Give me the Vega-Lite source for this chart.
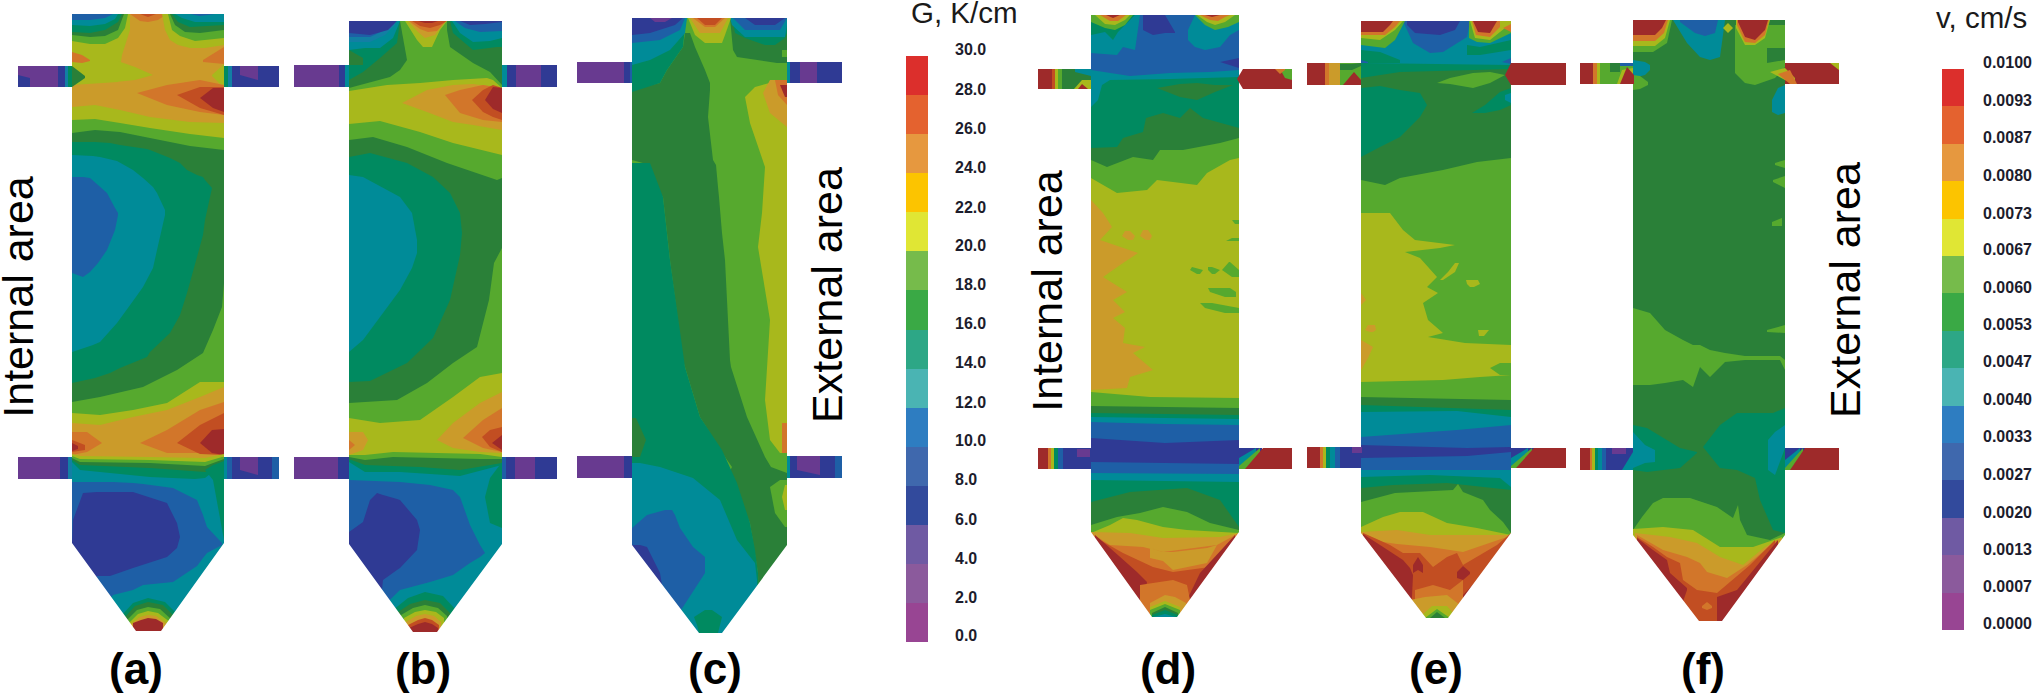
{
"$schema":"https://vega.github.io/schema/vega-lite/v6.json",
"width":2032,"height":697,"padding":0,"autosize":"none","background":"white",
"config":{"view":{"stroke":null},"font":"Liberation Sans"},
"encoding":{
"x":{"field":"x","type":"quantitative","axis":null,"scale":{"domain":[0,2032],"nice":false,"zero":false}},
"y":{"field":"y","type":"quantitative","axis":null,"scale":{"domain":[0,697],"reverse":true,"nice":false,"zero":false}}
},
"datasets":{
"v":[
{"b":"a0","c":11,"x":[72,224],"y":[14,14],"y2":[640,640]},
{"b":"a1","c":12,"x":[130,140,148,158,167],"y":[14,14,14,14,14],"y2":[14,21,22,20,14]},
{"b":"a2","c":13,"x":[140,148,156],"y":[14,14,14],"y2":[14,17,14]},
{"b":"a3","c":10,"x":[72,118,122,130],"y":[14,14,14,14],"y2":[85,82,55,30]},
{"b":"a4","c":10,"x":[115,135,153],"y":[60,67,75],"y2":[82,80,75]},
{"b":"a5","c":12,"x":[72,82,90],"y":[52,55,60],"y2":[62,63,61]},
{"b":"a6","c":9,"x":[72,90,105,118,125,128],"y":[14,14,14,14,14,14],"y2":[41,44,44,38,28,14]},
{"b":"a7","c":8,"x":[72,90,105,118,124],"y":[14,14,14,14,14],"y2":[35,37,36,30,14]},
{"b":"a8","c":7,"x":[72,90,105,118,122],"y":[14,14,14,14,14],"y2":[32,33,30,22,14]},
{"b":"a9","c":6,"x":[72,90,105,115,118],"y":[14,14,14,14,14],"y2":[25,26,24,19,14]},
{"b":"a10","c":4,"x":[72,90,105,113],"y":[14,14,14,14],"y2":[20,20,18,14]},
{"b":"a11","c":10,"x":[162,165,170,178,190,205,224],"y":[14,14,14,14,14,14,14],"y2":[14,30,40,45,48,48,45]},
{"b":"a12","c":9,"x":[168,172,180,195,224],"y":[14,14,14,14,14],"y2":[14,30,36,41,38]},
{"b":"a13","c":8,"x":[170,175,185,200,224],"y":[14,14,14,14,14],"y2":[14,25,32,33,30]},
{"b":"a14","c":7,"x":[172,178,190,224],"y":[14,14,14,14],"y2":[14,22,27,25]},
{"b":"a15","c":6,"x":[175,182,195,224],"y":[14,14,14,14],"y2":[14,18,22,22]},
{"b":"a16","c":4,"x":[190,200,215],"y":[14,14,14],"y2":[14,16,14]},
{"b":"a17","c":12,"x":[203,224],"y":[60,47],"y2":[62,64]},
{"b":"a18","c":10,"x":[212,224],"y":[75,64],"y2":[76,88]},
{"b":"a19","c":8,"x":[72,85],"y":[66,76],"y2":[87,78]},
{"b":"a20","c":12,"x":[137,167,200,224],"y":[93,85,80,85],"y2":[93,105,112,115]},
{"b":"a21","c":13,"x":[177,200,224],"y":[95,87,87],"y2":[95,108,115]},
{"b":"a22","c":14,"x":[200,213,224],"y":[98,88,88],"y2":[98,108,112]},
{"b":"a23","c":10,"x":[72,95,120,150,190,224],"y":[107,105,110,117,122,123],"y2":[640,640,640,640,640,640]},
{"b":"a24","c":9,"x":[72,95,120,150,190,224],"y":[120,119,123,128,134,138],"y2":[640,640,640,640,640,640]},
{"b":"a25","c":8,"x":[72,95,120,150,190,224],"y":[133,130,132,138,146,150],"y2":[640,640,640,640,640,640]},
{"b":"a26","c":7,"x":[72,95,110,120,147,150,170,180,187,197,203,205,212],"y":[142,142,143,145,149,150,158,163,170,175,177,180,188],"y2":[383,378,373,368,357,352,333,315,293,257,235,220,188]},
{"b":"a27","c":6,"x":[72,93,100,117,133,143,153,157,165],"y":[155,156,157,161,170,178,187,193,210],"y2":[352,345,342,323,301,287,268,250,215]},
{"b":"a28","c":4,"x":[72,83,90,98,107,115,118],"y":[177,177,178,185,193,208,213],"y2":[273,277,272,263,250,230,215]},
{"b":"a29","c":9,"x":[72,100,143,177,203,213,222,224],"y":[402,397,387,370,353,330,307,283],"y2":[640,640,640,640,640,640,640,640]},
{"b":"a30","c":10,"x":[72,100,133,167,200,224],"y":[413,415,410,403,382,382],"y2":[640,640,640,640,640,640]},
{"b":"a31","c":11,"x":[72,100,133,167,200,224],"y":[423,425,417,410,397,387],"y2":[640,640,640,640,640,640]},
{"b":"a32","c":12,"x":[140,167,200,224],"y":[443,430,410,402],"y2":[443,453,453,454]},
{"b":"a33","c":13,"x":[177,200,224],"y":[443,425,413],"y2":[443,454,455]},
{"b":"a34","c":14,"x":[200,212,224],"y":[443,430,429],"y2":[443,453,455]},
{"b":"a35","c":12,"x":[72,87,102],"y":[432,432,443],"y2":[455,452,443]},
{"b":"a36","c":13,"x":[72,85],"y":[440,445],"y2":[452,450]},
{"b":"a37","c":14,"x":[72,78],"y":[443,446],"y2":[451,449]},
{"b":"a38","c":10,"x":[72,80,150,205,224],"y":[454,456,457,458,454],"y2":[640,640,640,640,640]},
{"b":"a39","c":9,"x":[72,80,150,205,222,224],"y":[456,459,460,462,457,457],"y2":[640,640,640,640,640,640]},
{"b":"a40","c":8,"x":[72,80,150,205,224],"y":[458,462,463,466,459],"y2":[640,640,640,640,640]},
{"b":"a41","c":7,"x":[72,80,150,205,215,224],"y":[460,465,468,472,468,461],"y2":[640,640,640,640,640,640]},
{"b":"a42","c":6,"x":[72,80,150,195,205,224],"y":[462,470,477,479,478,463],"y2":[640,640,640,640,640,640]},
{"b":"a43","c":7,"x":[205,213,224],"y":[470,465,461],"y2":[470,480,540]},
{"b":"a44","c":4,"x":[72,113,133,143,173,197,203,207,222],"y":[482,482,483,484,488,500,515,527,543],"y2":[640,595,590,585,582,566,558,553,545]},
{"b":"a45","c":3,"x":[72,73,83,97,110,133,167,177,180],"y":[543,520,493,492,492,492,503,523,537],"y2":[640,640,640,576,576,568,557,548,537]},
{"b":"a46","c":7,"x":[122,133,148,165,178],"y":[615,603,598,602,615],"y2":[640,640,640,640,640]},
{"b":"a47","c":8,"x":[125,135,148,163,175],"y":[617,606,602,605,617],"y2":[640,640,640,640,640]},
{"b":"a48","c":9,"x":[127,137,148,160,172],"y":[620,610,607,609,620],"y2":[640,640,640,640,640]},
{"b":"a49","c":10,"x":[130,138,148,158,170],"y":[622,614,611,613,622],"y2":[640,640,640,640,640]},
{"b":"a50","c":11,"x":[131,140,148,156,167],"y":[624,617,615,616,624],"y2":[640,640,640,640,640]},
{"b":"a51","c":14,"x":[133,141,148,156,163],"y":[623,620,618,619,623],"y2":[640,640,640,640,640]},

{"b":"b0","c":9,"x":[349,502],"y":[21,21],"y2":[640,640]},
{"b":"b1","c":8,"x":[349,390,400,407],"y":[21,21,21,60],"y2":[88,77,70,60]},
{"b":"b2","c":7,"x":[349,363,380,397,400],"y":[21,21,21,21,21],"y2":[80,72,58,43,21]},
{"b":"b3","c":8,"x":[349,363],"y":[50,58],"y2":[65,65]},
{"b":"b4","c":6,"x":[349,365,380,393,398,400],"y":[21,21,21,21,21,21],"y2":[50,48,48,38,26,21]},
{"b":"b5","c":5,"x":[349,370,385,395],"y":[21,21,21,21],"y2":[42,42,35,25]},
{"b":"b6","c":4,"x":[349,370,385,393],"y":[21,21,21,21],"y2":[37,37,30,21]},
{"b":"b7","c":3,"x":[349,370,388,397],"y":[21,21,21,21],"y2":[33,35,30,21]},
{"b":"b8","c":8,"x":[447,450,473,490,502],"y":[21,21,21,21,21],"y2":[30,47,63,72,85]},
{"b":"b9","c":7,"x":[450,453,473,497,502],"y":[21,21,21,21,21],"y2":[21,33,50,47,47]},
{"b":"b10","c":6,"x":[452,460,473,490,502],"y":[21,21,21,21,21],"y2":[21,33,42,41,38]},
{"b":"b11","c":4,"x":[455,465,480,502],"y":[21,21,21,21],"y2":[21,28,32,31]},
{"b":"b12","c":3,"x":[460,470,485,502],"y":[21,21,21,21],"y2":[21,25,24,22]},
{"b":"b13","c":10,"x":[405,417,423,432,440,447],"y":[21,21,21,21,21,21],"y2":[21,40,47,47,30,21]},
{"b":"b14","c":11,"x":[408,418,425,435,445],"y":[21,21,21,21,21],"y2":[21,32,38,35,21]},
{"b":"b15","c":12,"x":[409,420,428,437,446],"y":[21,21,21,21,21],"y2":[21,29,32,31,21]},
{"b":"b16","c":13,"x":[412,420,430,440,447],"y":[21,21,21,21,21],"y2":[21,26,28,25,21]},
{"b":"b17","c":14,"x":[418,425,432,438],"y":[21,21,21,21],"y2":[21,23,23,21]},
{"b":"b18","c":10,"x":[349,387,420,453,487,493,502],"y":[91,85,83,80,78,80,88],"y2":[640,640,640,640,640,640,640]},
{"b":"b19","c":11,"x":[402,427,453,473,502],"y":[103,90,85,84,88],"y2":[103,112,122,125,130]},
{"b":"b20","c":12,"x":[445,460,483,502],"y":[95,90,85,88],"y2":[95,113,120,122]},
{"b":"b21","c":13,"x":[472,483,493,502],"y":[100,90,85,88],"y2":[100,112,117,120]},
{"b":"b22","c":14,"x":[485,493,502],"y":[100,87,88],"y2":[100,109,113]},
{"b":"b23","c":9,"x":[349,380,420,453,502],"y":[124,121,132,143,155],"y2":[640,640,640,640,640]},
{"b":"b24","c":8,"x":[349,373,407,447,497,502],"y":[140,137,147,163,180,178],"y2":[640,640,640,640,640,640]},
{"b":"b25","c":9,"x":[349,397,427,453,477,489,494,502],"y":[403,400,383,363,347,300,263,248],"y2":[640,640,640,640,640,640,640,640]},
{"b":"b26","c":7,"x":[349,370,407,433,450,460,462],"y":[157,153,163,177,193,213,233],"y2":[382,381,363,338,300,255,233]},
{"b":"b27","c":6,"x":[349,363,400,412,417],"y":[175,177,197,213,240],"y2":[352,340,290,268,253]},
{"b":"b28","c":10,"x":[349,380,420,453,480,502],"y":[418,423,420,397,377,373],"y2":[640,640,640,640,640,640]},
{"b":"b29","c":11,"x":[437,453,480,502],"y":[440,423,403,392],"y2":[440,448,452,453]},
{"b":"b30","c":12,"x":[463,483,502],"y":[438,420,408],"y2":[438,448,452]},
{"b":"b31","c":13,"x":[482,490,502],"y":[437,430,427],"y2":[437,447,452]},
{"b":"b32","c":14,"x":[492,502],"y":[443,435],"y2":[443,450]},
{"b":"b33","c":11,"x":[349,363,368],"y":[432,432,440],"y2":[455,450,440]},
{"b":"b34","c":12,"x":[349,355],"y":[440,445],"y2":[450,445]},
{"b":"b35","c":9,"x":[349,365,393,480,502],"y":[455,455,452,454,457],"y2":[640,640,640,640,640]},
{"b":"b36","c":8,"x":[349,365,393,480,502],"y":[457,460,457,459,459],"y2":[640,640,640,640,640]},
{"b":"b37","c":7,"x":[349,365,420,460,502],"y":[459,465,467,470,463],"y2":[640,640,640,640,640]},
{"b":"b38","c":6,"x":[349,365,400,460,502],"y":[462,472,472,476,465],"y2":[640,640,640,640,640]},
{"b":"b39","c":7,"x":[485,490,502],"y":[497,478,462],"y2":[497,523,528]},
{"b":"b40","c":4,"x":[349,400,430,453,460,470,480,485],"y":[480,482,485,490,497,525,545,553],"y2":[640,590,582,575,570,563,557,553]},
{"b":"b41","c":3,"x":[349,363,370,377,383,397,400,417,420],"y":[532,522,500,493,495,499,500,520,530],"y2":[640,640,640,640,580,570,568,550,530]},
{"b":"b42","c":7,"x":[393,408,425,443,456],"y":[610,598,592,596,610],"y2":[640,640,640,640,640]},
{"b":"b43","c":8,"x":[398,410,425,440,450],"y":[612,604,600,603,613],"y2":[640,640,640,640,640]},
{"b":"b44","c":9,"x":[401,413,425,438,447],"y":[615,608,605,608,616],"y2":[640,640,640,640,640]},
{"b":"b45","c":10,"x":[404,415,425,436,444],"y":[618,612,610,612,618],"y2":[640,640,640,640,640]},
{"b":"b46","c":11,"x":[406,416,425,434,441],"y":[622,616,614,616,622],"y2":[640,640,640,640,640]},
{"b":"b47","c":13,"x":[408,418,425,432,439],"y":[625,620,618,620,625],"y2":[640,640,640,640,640]},
{"b":"b48","c":14,"x":[409,418,425,432,438],"y":[628,624,622,624,628],"y2":[640,640,640,640,640]},

{"b":"d0","c":4,"x":[1091,1239],"y":[15,15],"y2":[640,640]},
{"b":"d1","c":6,"x":[1091,1117,1123,1135,1140],"y":[15,15,15,15,15],"y2":[53,55,47,50,15]},
{"b":"d2","c":7,"x":[1091,1105,1113,1118,1128,1135],"y":[15,15,15,15,15,15],"y2":[35,32,40,32,22,15]},
{"b":"d3","c":9,"x":[1091,1105,1115,1125,1133],"y":[15,15,15,15,15],"y2":[22,28,30,25,15]},
{"b":"d4","c":10,"x":[1095,1105,1115,1125,1130],"y":[15,15,15,15,15],"y2":[15,24,25,20,15]},
{"b":"d5","c":12,"x":[1100,1110,1118,1126],"y":[15,15,15,15],"y2":[15,21,21,15]},
{"b":"d6","c":14,"x":[1106,1113,1120],"y":[15,15,15],"y2":[15,18,15]},
{"b":"d7","c":3,"x":[1143,1153,1165,1175],"y":[15,15,15,32],"y2":[30,35,33,33]},
{"b":"d8","c":6,"x":[1188,1195,1205,1220,1230,1239],"y":[30,15,15,15,15,15],"y2":[40,47,50,47,35,30]},
{"b":"d9","c":9,"x":[1195,1205,1215,1228,1239],"y":[15,15,15,15,15],"y2":[15,25,30,27,22]},
{"b":"d10","c":10,"x":[1197,1207,1215,1225,1235],"y":[15,15,15,15,15],"y2":[15,22,25,22,15]},
{"b":"d11","c":12,"x":[1200,1210,1218,1225,1230],"y":[15,15,15,15,15],"y2":[15,20,21,17,15]},
{"b":"d12","c":14,"x":[1205,1212,1220],"y":[15,15,15],"y2":[15,17,15]},
{"b":"d13","c":3,"x":[1220,1239],"y":[62,58],"y2":[62,68]},
{"b":"d14","c":6,"x":[1091,1130,1170,1210,1239],"y":[70,76,73,72,70],"y2":[640,640,640,640,640]},
{"b":"d15","c":7,"x":[1091,1098,1102,1110,1170,1239],"y":[107,100,85,80,79,77],"y2":[640,640,640,640,640,640]},
{"b":"d16","c":8,"x":[1157,1180,1197,1215,1233],"y":[88,84,83,85,85],"y2":[88,97,100,92,85]},
{"b":"d17","c":8,"x":[1091,1117,1123,1143,1146,1163,1180,1190,1203,1239],"y":[148,147,138,132,118,113,118,108,118,128],"y2":[640,640,640,640,640,640,640,640,640,640]},
{"b":"d18","c":9,"x":[1091,1107,1133,1153,1160,1183,1220,1239],"y":[160,167,157,160,150,150,143,138],"y2":[640,640,640,640,640,640,640,640]},
{"b":"d19","c":10,"x":[1091,1117,1147,1157,1197,1207,1230,1239],"y":[178,193,190,180,185,173,160,158],"y2":[640,640,640,640,640,640,640,640]},
{"b":"d20","c":9,"x":[1091,1150,1239],"y":[392,397,398],"y2":[640,640,640]},
{"b":"d21","c":8,"x":[1091,1239],"y":[406,408],"y2":[640,640]},
{"b":"d22","c":7,"x":[1091,1239],"y":[413,415],"y2":[640,640]},
{"b":"d23","c":6,"x":[1091,1239],"y":[417,419],"y2":[640,640]},
{"b":"d24","c":4,"x":[1091,1165,1239],"y":[422,424,425],"y2":[640,640,640]},
{"b":"d25","c":3,"x":[1091,1165,1239],"y":[438,443,440],"y2":[462,463,464]},
{"b":"d26","c":6,"x":[1091,1239],"y":[473,474],"y2":[640,640]},
{"b":"d27","c":7,"x":[1091,1239],"y":[480,482],"y2":[640,640]},
{"b":"d28","c":8,"x":[1091,1130,1187,1220,1239],"y":[502,492,488,500,527],"y2":[640,640,640,640,640]},
{"b":"d29","c":9,"x":[1091,1117,1140,1163,1187,1210,1239],"y":[525,517,513,507,512,523,530],"y2":[640,640,640,640,640,640,640]},
{"b":"d30","c":10,"x":[1091,1110,1123,1137,1163,1187,1239],"y":[533,525,518,520,527,530,533],"y2":[640,640,640,640,640,640,640]},
{"b":"d31","c":11,"x":[1091,1130,1163,1220,1239],"y":[532,533,538,537,533],"y2":[640,640,640,640,640]},
{"b":"d32","c":12,"x":[1091,1110,1143,1163,1217,1239],"y":[533,545,547,552,545,533],"y2":[640,640,640,640,640,640]},
{"b":"d33","c":11,"x":[1150,1163,1173,1207,1217],"y":[548,552,552,548,545],"y2":[558,561,570,563,545]},
{"b":"d34","c":13,"x":[1091,1123,1153,1173,1210,1239],"y":[535,553,567,572,567,533],"y2":[640,640,640,640,640,640]},
{"b":"d35","c":14,"x":[1095,1110,1137,1147],"y":[535,548,572,582],"y2":[640,640,640,582]},
{"b":"d36","c":14,"x":[1187,1200,1235],"y":[600,573,535],"y2":[640,640,640]},
{"b":"d37","c":12,"x":[1140,1153,1173,1187,1190],"y":[585,583,580,585,600],"y2":[640,640,640,640,640]},
{"b":"d38","c":11,"x":[1150,1165,1175,1186],"y":[603,595,597,603],"y2":[640,640,640,640]},
{"b":"d39","c":10,"x":[1150,1165,1180],"y":[607,601,607],"y2":[640,640,640]},
{"b":"d40","c":9,"x":[1150,1165,1180],"y":[610,604,610],"y2":[640,640,640]},
{"b":"d41","c":8,"x":[1152,1165,1178],"y":[613,607,613],"y2":[640,640,640]},
{"b":"d42","c":7,"x":[1152,1165,1178],"y":[615,610,615],"y2":[640,640,640]},
{"b":"d43","c":6,"x":[1153,1165,1176],"y":[617,614,617],"y2":[640,640,640]},

{"b":"e0","c":6,"x":[1361,1511],"y":[21,21],"y2":[640,640]},
{"b":"e1","c":4,"x":[1403,1413,1430,1443,1467,1470],"y":[21,21,21,21,21,21],"y2":[21,43,53,52,37,21]},
{"b":"e2","c":3,"x":[1407,1415,1440,1455,1460],"y":[21,21,21,21,21],"y2":[25,33,35,30,21]},
{"b":"e3","c":7,"x":[1361,1380,1400],"y":[50,52,60],"y2":[63,63,63]},
{"b":"e4","c":9,"x":[1361,1385,1395,1405],"y":[21,21,21,21],"y2":[45,48,40,21]},
{"b":"e5","c":10,"x":[1361,1380,1395,1403],"y":[21,21,21,21],"y2":[38,40,30,21]},
{"b":"e6","c":12,"x":[1361,1385,1395,1400],"y":[21,21,21,21],"y2":[35,35,27,21]},
{"b":"e7","c":14,"x":[1361,1383,1390,1393],"y":[21,21,21,21],"y2":[32,32,25,21]},
{"b":"e8","c":7,"x":[1467,1480,1511],"y":[45,47,40],"y2":[55,55,50]},
{"b":"e9","c":9,"x":[1469,1477,1490,1511],"y":[21,21,21,21],"y2":[38,42,43,33]},
{"b":"e10","c":10,"x":[1470,1475,1490,1505,1511],"y":[21,21,21,21,21],"y2":[21,38,40,28,25]},
{"b":"e11","c":12,"x":[1472,1476,1490,1500],"y":[21,21,21,21],"y2":[21,35,37,27]},
{"b":"e12","c":14,"x":[1473,1478,1490,1497],"y":[21,21,21,21],"y2":[21,32,33,21]},
{"b":"e13","c":12,"x":[1503,1511],"y":[28,24],"y2":[28,32]},
{"b":"e14","c":4,"x":[1361,1368],"y":[60,62],"y2":[68,66]},
{"b":"e15","c":4,"x":[1502,1511],"y":[62,58],"y2":[62,64]},
{"b":"e16","c":7,"x":[1361,1511],"y":[63,65],"y2":[640,640]},
{"b":"e17","c":8,"x":[1361,1400,1511],"y":[78,72,69],"y2":[640,640,640]},
{"b":"e18","c":9,"x":[1437,1450,1473,1490,1505],"y":[83,78,73,72,75],"y2":[83,84,88,83,75]},
{"b":"e19","c":7,"x":[1361,1380,1400,1420,1427],"y":[88,86,90,93,105],"y2":[157,147,137,117,105]},
{"b":"e20","c":7,"x":[1472,1485,1500,1511],"y":[113,105,92,88],"y2":[113,113,110,105]},
{"b":"e21","c":6,"x":[1505,1511],"y":[95,93],"y2":[100,103]},
{"b":"e22","c":9,"x":[1361,1385,1400,1443,1477,1511],"y":[180,185,178,170,162,158],"y2":[640,640,640,640,640,640]},
{"b":"e23","c":8,"x":[1361,1511],"y":[397,400],"y2":[640,640]},
{"b":"e24","c":7,"x":[1361,1511],"y":[405,410],"y2":[640,640]},
{"b":"e25","c":6,"x":[1361,1457,1511],"y":[412,411,417],"y2":[640,640,640]},
{"b":"e26","c":4,"x":[1361,1457,1511],"y":[437,430,425],"y2":[640,640,640]},
{"b":"e27","c":3,"x":[1361,1467,1511],"y":[445,448,447],"y2":[458,456,452]},
{"b":"e28","c":6,"x":[1361,1511],"y":[470,470],"y2":[640,640]},
{"b":"e29","c":7,"x":[1361,1430,1500,1511],"y":[477,475,478,487],"y2":[640,640,640,640]},
{"b":"e30","c":8,"x":[1361,1393,1447,1511],"y":[488,485,483,490],"y2":[640,640,640,640]},
{"b":"e31","c":9,"x":[1361,1395,1453,1458,1463,1483,1490,1503,1511],"y":[502,493,490,484,492,500,510,522,533],"y2":[640,640,640,640,640,640,640,640,640]},
{"b":"e32","c":10,"x":[1361,1383,1400,1423,1447,1477,1511],"y":[527,517,512,512,523,528,535],"y2":[640,640,640,640,640,640,640]},
{"b":"e33","c":11,"x":[1361,1397,1430,1511],"y":[532,530,535,535],"y2":[640,640,640,640]},
{"b":"e34","c":12,"x":[1363,1383,1397,1430,1463,1507],"y":[533,542,544,547,552,537],"y2":[640,640,640,640,640,640]},
{"b":"e35","c":13,"x":[1363,1390,1403,1420,1433,1447,1457,1463,1497,1511],"y":[533,545,553,553,567,557,553,565,545,533],"y2":[640,640,640,640,640,640,640,640,640,640]},
{"b":"e36","c":14,"x":[1363,1380,1403,1410,1413],"y":[534,545,560,568,575],"y2":[640,640,640,640,575]},
{"b":"e37","c":14,"x":[1413,1418,1423],"y":[565,557,565],"y2":[573,570,573]},
{"b":"e38","c":14,"x":[1457,1463,1470],"y":[572,566,572],"y2":[578,580,574]},
{"b":"e39","c":14,"x":[1463,1487,1508],"y":[595,570,537],"y2":[640,640,640]},
{"b":"e40","c":12,"x":[1415,1433,1450,1463],"y":[590,585,590,580],"y2":[640,640,640,640]},
{"b":"e41","c":11,"x":[1410,1425,1447,1460],"y":[600,597,595,605],"y2":[640,640,640,640]},
{"b":"e42","c":10,"x":[1422,1432,1447,1455],"y":[615,606,606,615],"y2":[640,640,640,640]},
{"b":"e43","c":9,"x":[1425,1437,1450],"y":[618,609,618],"y2":[640,640,640]},
{"b":"e44","c":8,"x":[1430,1437,1445],"y":[618,612,618],"y2":[640,640,640]},

{"b":"f0","c":8,"x":[1633,1785],"y":[20,20],"y2":[640,640]},
{"b":"f1","c":6,"x":[1673,1687,1700,1710,1720,1725],"y":[20,20,20,20,20,20],"y2":[20,43,57,60,57,20]},
{"b":"f2","c":4,"x":[1680,1695,1705,1715,1718],"y":[20,20,20,20,20],"y2":[22,33,36,33,20]},
{"b":"f3","c":9,"x":[1633,1653,1667,1672],"y":[20,20,20,20],"y2":[52,52,43,20]},
{"b":"f4","c":10,"x":[1633,1655,1665,1670],"y":[20,20,20,20],"y2":[46,46,38,20]},
{"b":"f5","c":12,"x":[1633,1655,1664,1668],"y":[20,20,20,20],"y2":[41,41,33,20]},
{"b":"f6","c":14,"x":[1633,1655,1662,1666],"y":[20,20,20,20],"y2":[35,35,28,20]},
{"b":"f7","c":6,"x":[1633,1645,1650],"y":[60,62,65],"y2":[78,75,70]},
{"b":"f8","c":9,"x":[1633,1640,1648],"y":[75,76,82],"y2":[90,89,85]},
{"b":"f9","c":10,"x":[1723,1728,1733],"y":[28,23,28],"y2":[28,33,28]},
{"b":"f10","c":9,"x":[1735,1745,1755,1775,1785],"y":[25,25,25,25,25],"y2":[73,83,85,78,67]},
{"b":"f11","c":8,"x":[1767,1785],"y":[48,48],"y2":[63,60]},
{"b":"f12","c":10,"x":[1736,1745,1755,1765,1770],"y":[20,20,20,20,20],"y2":[28,45,45,38,20]},
{"b":"f13","c":12,"x":[1737,1745,1755,1765,1769],"y":[20,20,20,20,20],"y2":[25,42,43,35,20]},
{"b":"f14","c":14,"x":[1738,1745,1755,1765,1768],"y":[20,20,20,20,20],"y2":[22,37,40,30,20]},
{"b":"f15","c":6,"x":[1772,1778,1785],"y":[100,88,85],"y2":[112,115,113]},
{"b":"f16","c":9,"x":[1633,1650,1665,1683,1693,1700,1710,1725,1745,1780,1785],"y":[308,313,330,340,345,345,350,353,356,356,360],"y2":[385,385,383,380,387,367,377,362,360,360,370]},
{"b":"f17","c":9,"x":[1775,1785],"y":[163,160],"y2":[165,168]},
{"b":"f18","c":9,"x":[1773,1785],"y":[180,176],"y2":[182,188]},
{"b":"f19","c":9,"x":[1772,1782],"y":[222,218],"y2":[226,226]},
{"b":"f20","c":9,"x":[1767,1785],"y":[330,325],"y2":[332,333]},
{"b":"f21","c":7,"x":[1633,1647,1680,1697],"y":[425,428,448,452],"y2":[470,472,468,453]},
{"b":"f22","c":6,"x":[1633,1645,1655],"y":[432,445,450],"y2":[468,463,462]},
{"b":"f23","c":7,"x":[1703,1720,1737,1755,1760,1773,1785],"y":[447,425,413,413,413,413,408],"y2":[447,468,470,478,500,530,533]},
{"b":"f24","c":6,"x":[1768,1775,1785],"y":[440,432,425],"y2":[470,475,448]},
{"b":"f25","c":9,"x":[1633,1642,1653,1663,1690,1717,1733,1738,1740,1747,1770,1785],"y":[530,517,503,498,498,507,518,505,520,535,540,533],"y2":[640,640,640,640,640,640,640,640,640,640,640,640]},
{"b":"f26","c":10,"x":[1633,1663,1693,1720,1753,1782],"y":[529,527,530,547,547,537],"y2":[640,640,640,640,640,640]},
{"b":"f27","c":11,"x":[1635,1670,1697,1720,1743,1765,1782],"y":[533,537,543,557,565,547,538],"y2":[640,640,640,640,640,640,640]},
{"b":"f28","c":12,"x":[1637,1663,1687,1700,1707,1727,1747,1777],"y":[535,550,557,563,572,578,565,540],"y2":[640,640,640,640,640,640,640,640]},
{"b":"f29","c":13,"x":[1637,1653,1667,1680,1683,1697,1717,1750,1775],"y":[537,547,557,563,580,590,593,565,540],"y2":[640,640,640,640,640,640,640,640,640]},
{"b":"f30","c":14,"x":[1637,1653,1667,1670,1687],"y":[538,550,560,573,588],"y2":[640,640,640,640,590]},
{"b":"f31","c":14,"x":[1717,1737,1778],"y":[597,590,540],"y2":[640,640,640]},
{"b":"f32","c":12,"x":[1702,1707,1712],"y":[606,602,606],"y2":[608,610,608]},

{"b":"s1","c":1,"x":[18,58],"y":[66,66],"y2":[87,87]},
{"b":"s2","c":3,"x":[18,30],"y":[75,78],"y2":[87,87]},
{"b":"s3","c":3,"x":[58,65],"y":[66,66],"y2":[87,87]},
{"b":"s4","c":5,"x":[65,68],"y":[66,66],"y2":[87,87]},
{"b":"s5","c":7,"x":[68,72],"y":[66,66],"y2":[87,87]},
{"b":"s6","c":3,"x":[224,279],"y":[66,66],"y2":[87,87]},
{"b":"s7","c":7,"x":[224,228],"y":[66,66],"y2":[87,87]},
{"b":"s8","c":5,"x":[228,232],"y":[66,66],"y2":[87,87]},
{"b":"s9","c":1,"x":[240,258],"y":[66,66],"y2":[75,80]},
{"b":"s10","c":1,"x":[18,60],"y":[457,457],"y2":[479,479]},
{"b":"s11","c":3,"x":[60,68],"y":[457,457],"y2":[479,479]},
{"b":"s12","c":5,"x":[68,72],"y":[457,457],"y2":[479,479]},
{"b":"s13","c":3,"x":[224,279],"y":[457,457],"y2":[479,479]},
{"b":"s14","c":6,"x":[224,227],"y":[457,457],"y2":[479,479]},
{"b":"s15","c":4,"x":[227,232],"y":[457,457],"y2":[479,479]},
{"b":"s16","c":1,"x":[240,258],"y":[457,457],"y2":[470,475]},
{"b":"s17","c":4,"x":[272,279],"y":[457,457],"y2":[479,479]},
{"b":"s18","c":1,"x":[294,339],"y":[65,65],"y2":[87,87]},
{"b":"s19","c":3,"x":[339,345],"y":[65,65],"y2":[87,87]},
{"b":"s20","c":6,"x":[345,349],"y":[65,65],"y2":[87,87]},
{"b":"s21","c":1,"x":[294,338],"y":[457,457],"y2":[479,479]},
{"b":"s22","c":3,"x":[338,349],"y":[457,457],"y2":[479,479]},
{"b":"s23","c":3,"x":[502,557],"y":[65,65],"y2":[87,87]},
{"b":"s24","c":6,"x":[502,507],"y":[65,65],"y2":[87,87]},
{"b":"s25","c":1,"x":[516,541],"y":[65,65],"y2":[87,87]},
{"b":"s26","c":3,"x":[502,557],"y":[457,457],"y2":[479,479]},
{"b":"s27","c":4,"x":[502,506],"y":[457,457],"y2":[479,479]},
{"b":"s28","c":1,"x":[515,535],"y":[457,457],"y2":[479,479]},
{"b":"s29","c":1,"x":[577,624],"y":[62,62],"y2":[83,83]},
{"b":"s30","c":3,"x":[624,630],"y":[62,62],"y2":[83,83]},
{"b":"s31","c":4,"x":[630,632],"y":[62,62],"y2":[83,83]},
{"b":"s32","c":1,"x":[577,624],"y":[456,456],"y2":[478,478]},
{"b":"s33","c":3,"x":[624,632],"y":[456,456],"y2":[478,478]},
{"b":"s34","c":3,"x":[787,842],"y":[62,62],"y2":[83,83]},
{"b":"s35","c":6,"x":[787,790],"y":[62,62],"y2":[83,83]},
{"b":"s36","c":1,"x":[800,817],"y":[62,62],"y2":[83,83]},
{"b":"s37","c":3,"x":[787,842],"y":[456,456],"y2":[478,478]},
{"b":"s38","c":6,"x":[787,790],"y":[456,456],"y2":[478,478]},
{"b":"s39","c":1,"x":[797,820],"y":[456,456],"y2":[470,475]},
{"b":"s40","c":4,"x":[835,842],"y":[456,456],"y2":[478,478]},
{"b":"s41","c":8,"x":[1038,1091],"y":[69,69],"y2":[89,89]},
{"b":"s42","c":14,"x":[1038,1052],"y":[69,69],"y2":[89,89]},
{"b":"s43","c":13,"x":[1052,1055],"y":[69,69],"y2":[89,89]},
{"b":"s44","c":10,"x":[1055,1058],"y":[69,69],"y2":[89,89]},
{"b":"s45","c":9,"x":[1058,1062],"y":[69,69],"y2":[89,89]},
{"b":"s46","c":6,"x":[1075,1091],"y":[69,69],"y2":[72,76]},
{"b":"s47","c":10,"x":[1074,1082,1091],"y":[89,80,80],"y2":[89,89,89]},
{"b":"s48","c":14,"x":[1078,1082,1088],"y":[89,84,89],"y2":[89,89,89]},
{"b":"s49","c":14,"x":[1237,1243,1292],"y":[79,69,69],"y2":[79,89,89]},
{"b":"s50","c":9,"x":[1280,1285,1292],"y":[69,69,69],"y2":[69,78,80]},
{"b":"s51","c":12,"x":[1275,1280,1285],"y":[69,69,69],"y2":[69,74,70]},
{"b":"s52","c":3,"x":[1038,1091],"y":[448,448],"y2":[469,469]},
{"b":"s53","c":14,"x":[1038,1048],"y":[448,448],"y2":[469,469]},
{"b":"s54","c":12,"x":[1048,1051],"y":[448,448],"y2":[469,469]},
{"b":"s55","c":10,"x":[1051,1054],"y":[448,448],"y2":[469,469]},
{"b":"s56","c":7,"x":[1054,1058],"y":[448,448],"y2":[469,469]},
{"b":"s57","c":4,"x":[1058,1063],"y":[448,448],"y2":[469,469]},
{"b":"s58","c":1,"x":[1077,1090],"y":[449,449],"y2":[457,457]},
{"b":"s59","c":3,"x":[1239,1262],"y":[448,448],"y2":[469,469]},
{"b":"s60","c":6,"x":[1239,1256],"y":[458,448],"y2":[469,469]},
{"b":"s61","c":9,"x":[1239,1260],"y":[466,448],"y2":[469,469]},
{"b":"s62","c":14,"x":[1245,1263,1292],"y":[469,448,448],"y2":[469,469,469]},
{"b":"s63","c":9,"x":[1307,1361],"y":[63,63],"y2":[85,85]},
{"b":"s64","c":14,"x":[1307,1325],"y":[63,63],"y2":[85,85]},
{"b":"s65","c":12,"x":[1325,1329],"y":[63,63],"y2":[85,85]},
{"b":"s66","c":11,"x":[1329,1340],"y":[63,63],"y2":[85,85]},
{"b":"s67","c":8,"x":[1340,1352,1361],"y":[64,64,63],"y2":[70,70,66]},
{"b":"s68","c":14,"x":[1343,1354,1361],"y":[85,72,80],"y2":[85,85,85]},
{"b":"s69","c":14,"x":[1505,1511,1566],"y":[75,63,63],"y2":[75,85,85]},
{"b":"s70","c":3,"x":[1307,1361],"y":[447,447],"y2":[468,468]},
{"b":"s71","c":14,"x":[1307,1320],"y":[447,447],"y2":[468,468]},
{"b":"s72","c":12,"x":[1320,1323],"y":[447,447],"y2":[468,468]},
{"b":"s73","c":10,"x":[1323,1326],"y":[447,447],"y2":[468,468]},
{"b":"s74","c":7,"x":[1326,1330],"y":[447,447],"y2":[468,468]},
{"b":"s75","c":6,"x":[1330,1335],"y":[447,447],"y2":[468,468]},
{"b":"s76","c":4,"x":[1335,1340],"y":[447,447],"y2":[468,468]},
{"b":"s77","c":1,"x":[1352,1362],"y":[447,447],"y2":[453,453]},
{"b":"s78","c":3,"x":[1511,1535],"y":[448,448],"y2":[468,468]},
{"b":"s79","c":6,"x":[1511,1528],"y":[458,448],"y2":[468,468]},
{"b":"s80","c":9,"x":[1511,1532],"y":[466,448],"y2":[468,468]},
{"b":"s81","c":14,"x":[1516,1534,1566],"y":[468,448,448],"y2":[468,468,468]},
{"b":"s82","c":9,"x":[1580,1633],"y":[63,63],"y2":[84,84]},
{"b":"s83","c":14,"x":[1580,1593],"y":[63,63],"y2":[84,84]},
{"b":"s84","c":12,"x":[1593,1597],"y":[63,63],"y2":[84,84]},
{"b":"s85","c":10,"x":[1597,1600],"y":[63,63],"y2":[84,84]},
{"b":"s86","c":8,"x":[1610,1620],"y":[63,63],"y2":[72,72]},
{"b":"s87","c":4,"x":[1620,1633],"y":[63,63],"y2":[66,66]},
{"b":"s88","c":10,"x":[1617,1622,1633],"y":[84,70,68],"y2":[84,84,84]},
{"b":"s89","c":14,"x":[1620,1627,1634],"y":[84,67,75],"y2":[84,84,84]},
{"b":"s90","c":14,"x":[1785,1839],"y":[63,63],"y2":[84,84]},
{"b":"s91","c":10,"x":[1770,1785,1795],"y":[72,68,78],"y2":[72,80,84]},
{"b":"s92","c":12,"x":[1778,1790,1797],"y":[74,70,84],"y2":[74,84,84]},
{"b":"s93","c":10,"x":[1830,1839],"y":[63,63],"y2":[63,70]},
{"b":"s94","c":3,"x":[1580,1633],"y":[448,448],"y2":[470,470]},
{"b":"s95","c":14,"x":[1580,1590],"y":[448,448],"y2":[470,470]},
{"b":"s96","c":12,"x":[1590,1592],"y":[448,448],"y2":[470,470]},
{"b":"s97","c":10,"x":[1592,1595],"y":[448,448],"y2":[470,470]},
{"b":"s98","c":7,"x":[1595,1598],"y":[448,448],"y2":[470,470]},
{"b":"s99","c":6,"x":[1598,1602],"y":[448,448],"y2":[470,470]},
{"b":"s100","c":4,"x":[1602,1606],"y":[448,448],"y2":[470,470]},
{"b":"s101","c":1,"x":[1612,1626],"y":[448,448],"y2":[454,454]},
{"b":"s102","c":6,"x":[1622,1633],"y":[470,452],"y2":[470,470]},
{"b":"s103","c":3,"x":[1785,1805],"y":[448,448],"y2":[470,470]},
{"b":"s104","c":6,"x":[1785,1800],"y":[460,448],"y2":[470,470]},
{"b":"s105","c":9,"x":[1785,1803],"y":[468,448],"y2":[470,470]},
{"b":"s106","c":14,"x":[1790,1805,1839],"y":[470,448,448],"y2":[470,470,470]}
],
"h":[
{"b":"c0","c":9,"y":[18,640],"x":[632,632],"x2":[787,787]},
{"b":"c1","c":10,"y":[82,87,97,123,167,213,247,320,400,440,453],"x":[773,755,745,750,765,762,758,770,765,770,780],"x2":[787,787,787,787,787,787,787,787,787,787,787]},
{"b":"c2","c":11,"y":[80,93,113,127],"x":[770,763,770,787],"x2":[787,787,787,787]},
{"b":"c3","c":12,"y":[80,95,105],"x":[775,778,787],"x2":[787,787,787]},
{"b":"c4","c":14,"y":[85,97],"x":[780,785],"x2":[787,787]},
{"b":"c5","c":12,"y":[423,453],"x":[782,782],"x2":[787,787]},
{"b":"c6","c":8,"y":[33,47,70,83,90,117,160,165,187,197,233,260,360,367,417,457,467,473,523,573,640],"x":[685,683,667,660,632,632,632,650,655,663,667,670,683,685,700,725,732,729,750,758,760],"x2":[690,695,705,710,710,708,713,716,718,719,722,725,730,731,747,765,771,787,787,787,787]},
{"b":"c7","c":8,"y":[18,50,57,63],"x":[730,733,737,777],"x2":[787,787,787,787]},
{"b":"c8","c":9,"y":[50,57],"x":[782,782],"x2":[787,787]},
{"b":"c9","c":7,"y":[18,33],"x":[732,735],"x2":[787,787]},
{"b":"c10","c":7,"y":[33,38,45],"x":[735,745,765],"x2":[787,785,775]},
{"b":"c11","c":6,"y":[18,25,37],"x":[730,732,745],"x2":[787,787,785]},
{"b":"c12","c":4,"y":[18,30],"x":[733,745],"x2":[787,780]},
{"b":"c13","c":3,"y":[18,25],"x":[745,755],"x2":[785,775]},
{"b":"c14","c":10,"y":[18,35,43],"x":[688,695,705],"x2":[731,725,722]},
{"b":"c15","c":11,"y":[18,33],"x":[690,700],"x2":[728,720]},
{"b":"c16","c":12,"y":[18,27],"x":[693,705],"x2":[725,715]},
{"b":"c17","c":13,"y":[18,25],"x":[697,705],"x2":[722,715]},
{"b":"c18","c":7,"y":[18,47,70,83,92],"x":[632,632,632,632,632],"x2":[686,683,667,660,632]},
{"b":"c19","c":6,"y":[18,33,50,60,65],"x":[632,632,632,632,632],"x2":[687,685,670,650,632]},
{"b":"c20","c":4,"y":[18,30,40,43],"x":[632,632,632,632],"x2":[685,680,660,632]},
{"b":"c21","c":3,"y":[18,25,33,35],"x":[632,632,632,632],"x2":[683,675,650,632]},
{"b":"c22","c":1,"y":[18,22],"x":[650,655],"x2":[672,665]},
{"b":"c23","c":7,"y":[163,197,260,367,417,450,483,523,550,573,640],"x":[632,632,632,632,632,632,632,632,632,632,632],"x2":[650,663,670,685,700,722,737,750,755,758,760]},
{"b":"c24","c":8,"y":[418,440,457],"x":[632,632,632],"x2":[636,646,640]},
{"b":"c25","c":6,"y":[463,467,478,500,540,563,580,640],"x":[632,632,632,632,632,632,632,632],"x2":[640,660,693,720,737,755,757,757]},
{"b":"c26","c":4,"y":[510,515,528,547,557,573,607,640],"x":[665,647,632,632,632,632,632,632],"x2":[672,675,680,693,705,705,683,660]},
{"b":"c27","c":3,"y":[545,547,573,585,640],"x":[632,632,632,632,632],"x2":[640,647,660,662,662]},
{"b":"c28","c":7,"y":[610,617,625,633],"x":[705,694,697,699],"x2":[712,722,720,718]},
{"b":"c29","c":9,"y":[480,487,513,527],"x":[780,770,775,785],"x2":[787,787,787,787]},
{"b":"c30","c":10,"y":[485,497,510],"x":[785,782,785],"x2":[787,787,787]},
{"b":"d50","c":11,"y":[200,213,227,240,253,263,277,292,300,312,318,328,343,347,353,370,377,388,390],"x":[1091,1091,1091,1091,1091,1091,1091,1091,1091,1091,1091,1091,1091,1091,1091,1091,1091,1091,1091],"x2":[1091,1103,1112,1100,1138,1123,1103,1127,1113,1125,1113,1125,1123,1145,1133,1153,1130,1127,1091]},
{"b":"d51","c":11,"y":[231,236,240],"x":[1125,1122,1128],"x2":[1130,1135,1133]},
{"b":"d52","c":11,"y":[230,236,240],"x":[1143,1140,1146],"x2":[1148,1152,1150]},
{"b":"d53","c":9,"y":[267,270,274],"x":[1192,1190,1197],"x2":[1192,1203,1200]},
{"b":"d54","c":9,"y":[267,270,274],"x":[1208,1208,1212],"x2":[1212,1220,1215]},
{"b":"d55","c":9,"y":[262,270,277],"x":[1229,1222,1232],"x2":[1230,1239,1239]},
{"b":"d56","c":9,"y":[288,292,297],"x":[1208,1210,1225],"x2":[1230,1236,1236]},
{"b":"d57","c":9,"y":[303,308,313],"x":[1200,1205,1225],"x2":[1212,1239,1239]},
{"b":"d58","c":9,"y":[220,224],"x":[1232,1235],"x2":[1239,1239]},
{"b":"d59","c":9,"y":[238,241],"x":[1232,1226],"x2":[1239,1239]},
{"b":"e50","c":10,"y":[213,230,240,245,248,252,258,277,287,293,303,320,333,337,343,345,375,377,380,382],"x":[1361,1361,1361,1361,1361,1361,1361,1361,1361,1361,1361,1361,1361,1361,1361,1361,1361,1361,1361,1361],"x2":[1390,1403,1415,1455,1440,1405,1420,1437,1427,1438,1423,1428,1443,1428,1465,1511,1511,1480,1443,1361]},
{"b":"e51","c":9,"y":[363,368,375],"x":[1500,1490,1500],"x2":[1511,1511,1511]},
{"b":"e52","c":10,"y":[263,272,280],"x":[1455,1448,1440],"x2":[1459,1455,1443]},
{"b":"e53","c":10,"y":[280,284,287],"x":[1466,1467,1470],"x2":[1478,1480,1474]},
{"b":"e54","c":10,"y":[330,336],"x":[1478,1479],"x2":[1489,1484]},
{"b":"e55","c":11,"y":[293,300,305],"x":[1361,1361,1361],"x2":[1361,1366,1361]},
{"b":"e56","c":11,"y":[325,330,332],"x":[1368,1365,1370],"x2":[1375,1376,1373]},
{"b":"e57","c":11,"y":[340,347,358,370],"x":[1361,1361,1361,1361],"x2":[1361,1373,1368,1361]}
],
"mask":[
{"b":"ma","x":[72,136,161,224],"y":[543,631,631,543],"y2":[645,645,645,645]},
{"b":"mb","x":[349,413,437,502],"y":[544,632,632,544],"y2":[645,645,645,645]},
{"b":"mc","x":[632,699,722,787],"y":[545,633,633,545],"y2":[645,645,645,645]},
{"b":"md","x":[1091,1152,1177,1239],"y":[532,617,617,532],"y2":[645,645,645,645]},
{"b":"me","x":[1361,1426,1448,1511],"y":[533,618,618,533],"y2":[645,645,645,645]},
{"b":"mf","x":[1633,1699,1722,1785],"y":[535,621,621,535],"y2":[645,645,645,645]}
]
},
"layer":[
{"data":{"name":"v"},"transform":[{"flatten":["x","y","y2"]}],
 "mark":{"type":"area","orient":"vertical","stroke":null},
 "encoding":{"y2":{"field":"y2"},"detail":{"field":"b"},
  "color":{"field":"c","type":"ordinal","legend":null,"scale":{"domain":[0,1,2,3,4,5,6,7,8,9,10,11,12,13,14],"range":["#8a3f90","#683a90","#4a3a92","#2f3a94","#1e5fa6","#127fa4","#008b98","#008a60","#2a8038","#56a92e","#a8b81c","#cb9b2a","#d2762a","#c24e22","#9e2a2a"]}}}},
{"data":{"name":"h"},"transform":[{"flatten":["y","x","x2"]}],
 "mark":{"type":"area","orient":"horizontal","stroke":null},
 "encoding":{"x2":{"field":"x2"},"detail":{"field":"b"},
  "color":{"field":"c","type":"ordinal","legend":null,"scale":{"domain":[0,1,2,3,4,5,6,7,8,9,10,11,12,13,14],"range":["#8a3f90","#683a90","#4a3a92","#2f3a94","#1e5fa6","#127fa4","#008b98","#008a60","#2a8038","#56a92e","#a8b81c","#cb9b2a","#d2762a","#c24e22","#9e2a2a"]}}}},
{"data":{"name":"mask"},"transform":[{"flatten":["x","y","y2"]}],
 "mark":{"type":"area","orient":"vertical","color":"white"},
 "encoding":{"y2":{"field":"y2"},"detail":{"field":"b"}}},
{"data":{"values":[
{"c":14,"x":906,"x2":928,"y":56,"y2":95},{"c":13,"x":906,"x2":928,"y":95,"y2":134},{"c":12,"x":906,"x2":928,"y":134,"y2":173},{"c":11,"x":906,"x2":928,"y":173,"y2":212},{"c":10,"x":906,"x2":928,"y":212,"y2":251},{"c":9,"x":906,"x2":928,"y":251,"y2":290},{"c":8,"x":906,"x2":928,"y":290,"y2":330},{"c":7,"x":906,"x2":928,"y":330,"y2":369},{"c":6,"x":906,"x2":928,"y":369,"y2":408},{"c":5,"x":906,"x2":928,"y":408,"y2":447},{"c":4,"x":906,"x2":928,"y":447,"y2":486},{"c":3,"x":906,"x2":928,"y":486,"y2":525},{"c":2,"x":906,"x2":928,"y":525,"y2":564},{"c":1,"x":906,"x2":928,"y":564,"y2":603},{"c":0,"x":906,"x2":928,"y":603,"y2":642},
{"c":14,"x":1942,"x2":1964,"y":69,"y2":106},{"c":13,"x":1942,"x2":1964,"y":106,"y2":144},{"c":12,"x":1942,"x2":1964,"y":144,"y2":181},{"c":11,"x":1942,"x2":1964,"y":181,"y2":219},{"c":10,"x":1942,"x2":1964,"y":219,"y2":256},{"c":9,"x":1942,"x2":1964,"y":256,"y2":293},{"c":8,"x":1942,"x2":1964,"y":293,"y2":331},{"c":7,"x":1942,"x2":1964,"y":331,"y2":368},{"c":6,"x":1942,"x2":1964,"y":368,"y2":406},{"c":5,"x":1942,"x2":1964,"y":406,"y2":443},{"c":4,"x":1942,"x2":1964,"y":443,"y2":480},{"c":3,"x":1942,"x2":1964,"y":480,"y2":518},{"c":2,"x":1942,"x2":1964,"y":518,"y2":555},{"c":1,"x":1942,"x2":1964,"y":555,"y2":593},{"c":0,"x":1942,"x2":1964,"y":593,"y2":630}
]},
 "mark":{"type":"rect"},
 "encoding":{"x2":{"field":"x2"},"y2":{"field":"y2"},
  "color":{"field":"c","type":"ordinal","legend":null,"scale":{"domain":[0,1,2,3,4,5,6,7,8,9,10,11,12,13,14],"range":["#984593","#8b5a9c","#6f5aa3","#324a9c","#3f68ad","#2e7dc1","#4ab4b3","#2da786","#3aa945","#76bb4b","#e0e634","#fcc400","#e6983f","#e4622f","#dc2f2c"]}}}},
{"data":{"values":[
{"t":"30.0","x":955,"y":50},{"t":"28.0","x":955,"y":90},{"t":"26.0","x":955,"y":129},{"t":"24.0","x":955,"y":168},{"t":"22.0","x":955,"y":208},{"t":"20.0","x":955,"y":246},{"t":"18.0","x":955,"y":285},{"t":"16.0","x":955,"y":324},{"t":"14.0","x":955,"y":363},{"t":"12.0","x":955,"y":403},{"t":"10.0","x":955,"y":441},{"t":"8.0","x":955,"y":480},{"t":"6.0","x":955,"y":520},{"t":"4.0","x":955,"y":559},{"t":"2.0","x":955,"y":598},{"t":"0.0","x":955,"y":636},
{"t":"0.0100","x":1983,"y":63},{"t":"0.0093","x":1983,"y":101},{"t":"0.0087","x":1983,"y":138},{"t":"0.0080","x":1983,"y":176},{"t":"0.0073","x":1983,"y":214},{"t":"0.0067","x":1983,"y":250},{"t":"0.0060","x":1983,"y":288},{"t":"0.0053","x":1983,"y":325},{"t":"0.0047","x":1983,"y":362},{"t":"0.0040","x":1983,"y":400},{"t":"0.0033","x":1983,"y":437},{"t":"0.0027","x":1983,"y":475},{"t":"0.0020","x":1983,"y":513},{"t":"0.0013","x":1983,"y":550},{"t":"0.0007","x":1983,"y":587},{"t":"0.0000","x":1983,"y":624}
]},
 "mark":{"type":"text","align":"left","baseline":"middle","fontSize":16,"fontWeight":"bold","color":"#1c1c2c"},
 "encoding":{"text":{"field":"t"}}},
{"data":{"values":[{"t":"G, K/cm","x":911,"y":23},{"t":"v, cm/s","x":1936,"y":28}]},
 "mark":{"type":"text","align":"left","baseline":"alphabetic","fontSize":29.5,"color":"#1a1a1a"},
 "encoding":{"text":{"field":"t"}}},
{"data":{"values":[{"t":"Internal area","x":33,"y":297},{"t":"External area","x":842,"y":295},{"t":"Internal area","x":1062,"y":291},{"t":"External area","x":1860,"y":290}]},
 "mark":{"type":"text","align":"center","baseline":"alphabetic","angle":270,"fontSize":43,"color":"black"},
 "encoding":{"text":{"field":"t"}}},
{"data":{"values":[{"t":"(a)","x":136,"y":684},{"t":"(b)","x":423,"y":684},{"t":"(c)","x":715,"y":684},{"t":"(d)","x":1168,"y":684},{"t":"(e)","x":1436,"y":684},{"t":"(f)","x":1703,"y":684}]},
 "mark":{"type":"text","align":"center","baseline":"alphabetic","fontSize":44,"fontWeight":"bold","color":"black"},
 "encoding":{"text":{"field":"t"}}}
],
"resolve":{"scale":{"color":"independent"}}
}
